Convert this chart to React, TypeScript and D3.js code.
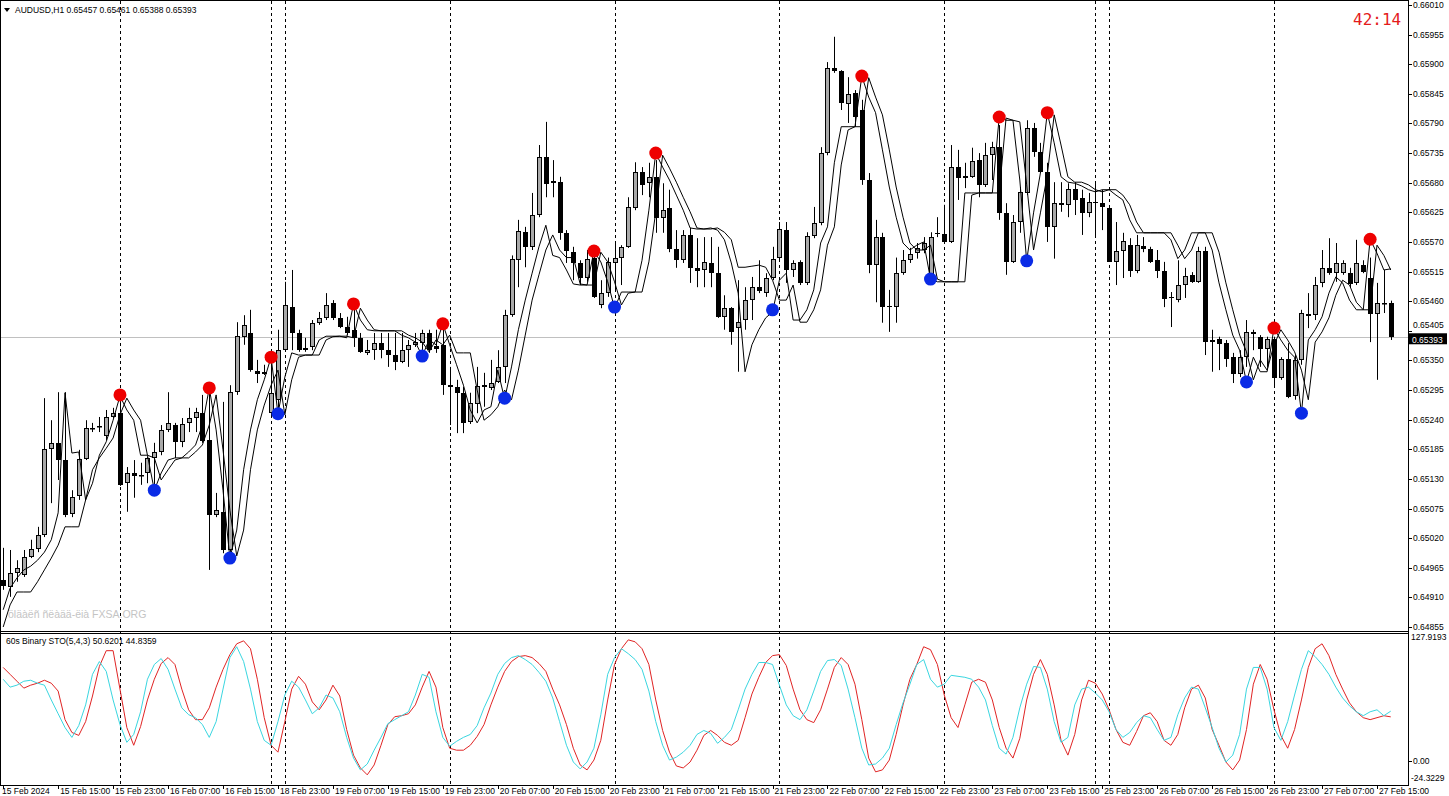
import React from "react";
import * as d3 from "d3";

// ---- price data (in points, 1 point = 0.00001) ----
const OPEN = [64942,64929,64955,64952,64985,65000,65026,65186,65197,65165,65065,65098,65167,65223,65226,65210,65245,65252,65122,65141,65135,65141,65169,65180,65221,65230,65199,65234,65243,65252,65202,65063,65069,64998,65291,65394,65401,65330,65325,65252,65277,65369,65449,65401,65369,65375,65420,65429,65457,65429,65412,65407,65392,65364,65369,65382,65369,65360,65347,65369,65379,65382,65401,65377,65379,65304,65301,65290,65236,65269,65301,65299,65310,65338,65434,65537,65588,65561,65620,65728,65679,65681,65587,65551,65531,65503,65541,65453,65475,65531,65541,65561,65633,65700,65679,65691,65615,65633,65557,65536,65583,65522,65518,65531,65512,65431,65447,65410,65425,65462,65486,65475,65503,65541,65592,65518,65533,65494,65581,65605,65735,65893,65887,65826,65847,65815,65685,65527,65579,65451,65449,65512,65536,65549,65555,65509,65587,65585,65570,65709,65689,65691,65722,65676,65731,65746,65624,65533,65607,65661,65782,65737,65700,65598,65639,65639,65668,65652,65624,65644,65642,65633,65533,65553,65564,65516,65562,65557,65536,65516,65468,65462,65490,65509,65496,65553,65388,65390,65382,65356,65325,65356,65403,65394,65371,65390,65317,65353,65284,65351,65436,65434,65494,65522,65512,65512,65512,65494,65527,65503,65436,65455,65457];
const HIGH = [65002,64998,64979,64998,65017,65041,65280,65239,65291,65291,65109,65184,65239,65234,65245,65258,65262,65284,65152,65165,65160,65171,65197,65230,65291,65234,65243,65262,65262,65286,65299,65104,65273,65304,65421,65434,65444,65351,65342,65354,65407,65496,65518,65407,65392,65425,65440,65475,65462,65438,65431,65444,65401,65388,65401,65401,65401,65401,65401,65388,65401,65407,65407,65407,65412,65338,65314,65301,65290,65338,65327,65351,65369,65444,65545,65611,65598,65661,65750,65793,65722,65691,65592,65561,65536,65555,65553,65499,65541,65570,65564,65653,65718,65709,65717,65722,65679,65667,65592,65592,65596,65577,65579,65579,65561,65471,65449,65499,65486,65505,65536,65512,65561,65607,65607,65536,65536,65588,65635,65746,65904,65951,65889,65876,65852,65834,65698,65611,65587,65481,65541,65555,65559,65568,65579,65588,65616,65639,65750,65741,65717,65745,65735,65754,65756,65787,65642,65620,65672,65796,65791,65754,65717,65681,65681,65679,65681,65667,65661,65679,65667,65637,65607,65587,65577,65583,65579,65561,65555,65533,65477,65536,65522,65514,65561,65561,65407,65394,65388,65364,65369,65425,65407,65397,65394,65394,65356,65382,65360,65444,65475,65505,65555,65577,65568,65536,65522,65574,65536,65541,65494,65518,65461];
const LOW = [64924,64911,64939,64948,64983,64994,65022,65085,65128,65059,65059,65091,65165,65217,65217,65202,65243,65117,65069,65095,65119,65122,65109,65174,65217,65169,65189,65217,65217,65197,64961,65059,64992,64983,65286,65379,65329,65308,65323,65245,65251,65366,65369,65366,65366,65369,65416,65425,65425,65410,65397,65375,65364,65360,65351,65354,65338,65332,65345,65338,65375,65366,65364,65364,65286,65230,65215,65215,65232,65252,65264,65295,65308,65308,65431,65486,65523,65555,65616,65653,65653,65574,65531,65499,65490,65496,65466,65447,65468,65481,65490,65559,65629,65657,65653,65587,65587,65551,65522,65531,65494,65486,65486,65486,65429,65407,65379,65329,65407,65425,65475,65468,65499,65536,65494,65505,65490,65490,65577,65601,65731,65884,65815,65791,65784,65676,65512,65458,65420,65403,65420,65509,65531,65539,65549,65505,65579,65568,65568,65648,65670,65689,65653,65672,65685,65611,65509,65531,65587,65657,65728,65698,65570,65539,65626,65616,65620,65583,65616,65579,65592,65533,65490,65503,65505,65512,65551,65531,65503,65449,65412,65458,65466,65494,65494,65360,65329,65332,65338,65308,65319,65338,65369,65338,65338,65304,65314,65280,65277,65342,65410,65425,65486,65509,65496,65509,65486,65490,65512,65384,65314,65438,65388];
const CLOSE = [64931,64955,64965,64985,65000,65026,65186,65197,65165,65063,65096,65167,65225,65225,65228,65245,65252,65119,65141,65135,65137,65169,65180,65221,65234,65199,65232,65243,65254,65200,65063,65072,64998,65291,65395,65416,65332,65325,65329,65290,65369,65453,65401,65369,65373,65420,65429,65453,65429,65412,65401,65392,65366,65369,65382,65369,65360,65347,65369,65379,65384,65401,65369,65371,65304,65301,65290,65234,65271,65303,65304,65308,65338,65434,65539,65590,65561,65620,65728,65678,65683,65587,65553,65531,65503,65539,65468,65475,65533,65541,65561,65635,65700,65676,65691,65615,65629,65557,65537,65583,65522,65516,65533,65512,65431,65447,65403,65421,65462,65486,65479,65503,65539,65594,65518,65531,65494,65581,65605,65735,65893,65887,65828,65845,65802,65685,65527,65579,65449,65449,65512,65537,65548,65559,65568,65579,65585,65570,65709,65689,65692,65720,65676,65731,65746,65624,65533,65607,65663,65782,65737,65700,65598,65642,65642,65668,65648,65624,65644,65642,65635,65533,65553,65572,65516,65564,65557,65533,65516,65464,65466,65490,65507,65496,65553,65384,65384,65380,65353,65325,65356,65403,65399,65371,65390,65317,65353,65282,65351,65438,65432,65490,65522,65512,65531,65531,65492,65531,65514,65436,65457,65457,65393];

// ---- channel indicator lines (points) ----
const LINE_FAST = [64887,64927,64946,64961,64968,64979,64994,65017,65067,65290,65178,65180,65091,65122,65174,65199,65239,65284,65258,65239,65174,65174,65109,65141,65165,65169,65169,65180,65193,65230,65299,65221,65109,64983,65035,65147,65221,65277,65314,65356,65251,65319,65364,65360,65360,65360,65388,65395,65395,65395,65392,65455,65425,65407,65405,65405,65405,65405,65397,65392,65384,65358,65388,65379,65418,65379,65342,65304,65258,65234,65258,65264,65332,65278,65338,65407,65462,65512,65561,65601,65545,65541,65518,65492,65490,65490,65553,65533,65496,65447,65477,65477,65477,65536,65629,65735,65709,65685,65657,65629,65596,65594,65594,65596,65592,65574,65531,65475,65329,65379,65407,65429,65440,65499,65512,65425,65425,65444,65481,65568,65598,65717,65784,65784,65784,65878,65839,65810,65741,65672,65616,65568,65555,65564,65570,65501,65496,65496,65496,65496,65661,65661,65661,65661,65661,65802,65796,65796,65685,65535,65624,65698,65810,65754,65691,65681,65679,65674,65667,65663,65667,65667,65657,65648,65611,65587,65587,65587,65587,65587,65574,65539,65555,65587,65587,65587,65555,65494,65444,65397,65369,65310,65356,65329,65329,65410,65388,65369,65356,65252,65388,65407,65431,65475,65505,65494,65462,65444,65444,65575,65549,65518,65520];
const LINE_SLOW = [64855,64896,64920,64920,64920,64939,64961,64983,65007,65041,65041,65041,65091,65147,65169,65187,65206,65249,65280,65258,65239,65174,65169,65128,65147,65165,65169,65169,65180,65193,65230,65286,65184,65072,64987,65035,65147,65221,65267,65304,65332,65249,65314,65356,65360,65360,65360,65388,65394,65395,65395,65392,65447,65425,65407,65405,65405,65405,65405,65397,65392,65384,65366,65388,65379,65397,65364,65364,65364,65295,65239,65249,65264,65295,65277,65332,65397,65462,65509,65555,65583,65555,65541,65541,65492,65490,65490,65551,65533,65496,65453,65475,65477,65477,65533,65626,65731,65707,65681,65653,65626,65596,65594,65594,65596,65588,65574,65523,65523,65525,65527,65523,65499,65462,65462,65490,65421,65421,65444,65481,65564,65598,65713,65778,65784,65784,65875,65839,65806,65741,65672,65616,65568,65555,65555,65564,65501,65496,65496,65496,65496,65657,65661,65661,65661,65661,65800,65796,65793,65676,65555,65624,65694,65806,65750,65691,65681,65681,65676,65667,65663,65667,65667,65657,65639,65607,65587,65587,65587,65587,65587,65564,65539,65555,65587,65587,65587,65551,65494,65444,65397,65366,65314,65351,65332,65379,65407,65388,65366,65332,65277,65384,65403,65429,65471,65499,65490,65458,65444,65444,65564,65545,65518];

// ---- signal dots ----
const RED_DOT_INDEX = [17,30,39,51,64,86,95,125,145,152,185,199];
const RED_DOT_PRICE = [65286,65299,65356,65455,65418,65553,65735,65878,65802,65810,65410,65575];
const BLUE_DOT_INDEX = [22,33,40,61,73,89,112,135,149,181,189];
const BLUE_DOT_PRICE = [65109,64983,65251,65358,65280,65449,65444,65501,65535,65310,65252];

// ---- stochastic ----
const STO_MAIN = [83,75,77,81,82,79,77,62,48,34,24,36,57,88,101,91,62,37,19,27,50,83,98,104,93,73,54,47,44,37,24,40,73,105,116,101,73,40,21,16,40,67,81,75,62,48,54,67,64,50,24,3,-9,-3,11,24,38,42,46,50,67,88,85,50,24,15,20,24,27,36,54,69,88,99,105,107,103,98,90,81,64,40,16,-1,-8,-1,13,47,88,105,114,109,103,93,71,40,16,1,4,9,16,27,31,28,18,24,32,52,73,88,100,100,98,77,57,46,42,52,71,91,102,103,97,73,44,13,-4,-3,3,13,37,59,78,98,103,83,75,78,87,86,85,83,75,62,36,13,7,24,54,78,96,95,73,40,19,24,57,73,75,69,62,50,32,24,29,39,46,44,32,21,24,47,64,75,73,54,34,13,-1,6,27,73,95,95,73,34,21,40,67,93,112,106,98,88,75,64,56,50,46,50,52,46,50.62];
const STO_SIGNAL = [95,88,81,74,77,79,82,79,71,42,29,26,40,66,96,112,112,73,34,16,35,62,83,99,105,98,73,52,42,42,54,75,93,108,119,122,114,83,44,16,9,40,73,86,78,60,52,62,77,66,32,6,-7,-14,-4,16,37,45,46,48,57,75,91,75,34,13,11,11,16,25,37,57,75,91,101,106,107,105,99,91,73,57,37,13,-4,-9,1,21,62,98,114,123,121,114,98,62,31,9,-5,-7,-1,11,26,31,26,19,16,21,44,68,85,100,107,108,97,73,52,42,39,52,73,95,105,98,78,42,3,-11,-9,1,27,57,83,98,116,113,98,67,44,34,57,80,83,80,62,34,13,3,23,62,88,103,88,57,21,6,27,62,82,79,68,52,32,19,16,30,46,49,40,21,16,27,54,73,77,64,32,16,-1,-9,1,32,78,98,83,52,26,13,32,62,95,114,119,107,88,73,59,50,44,42,44,46,44.84];

// ---- axes ----
const PRICE_TICKS = [0.66010,0.65955,0.65900,0.65845,0.65790,0.65735,0.65680,0.65625,0.65570,0.65515,0.65460,0.65405,0.65350,0.65295,0.65240,0.65185,0.65130,0.65075,0.65020,0.64965,0.64910,0.64855];
const PRICE_MIN = 0.64855;
const PRICE_MAX = 0.66010;
const STO_MIN = -24.3229;
const STO_MAX = 127.9193;
const LAST_PRICE = 0.65393;
const TIME_LABELS = ["15 Feb 2024","15 Feb 15:00","15 Feb 23:00","16 Feb 07:00","16 Feb 15:00","18 Feb 23:00","19 Feb 07:00","19 Feb 15:00","19 Feb 23:00","20 Feb 07:00","20 Feb 15:00","20 Feb 23:00","21 Feb 07:00","21 Feb 15:00","21 Feb 23:00","22 Feb 07:00","22 Feb 15:00","22 Feb 23:00","23 Feb 07:00","23 Feb 15:00","25 Feb 23:00","26 Feb 07:00","26 Feb 15:00","26 Feb 23:00","27 Feb 07:00","27 Feb 15:00"];
const TIME_LABEL_INDEX = [0,8,16,24,32,40,48,56,64,72,80,88,96,104,112,120,128,136,144,152,160,168,176,184,192,200];
const SEPARATOR_INDEX = [17,39,41,65,89,113,137,159,161,185];

const POINT = 0.00001;
const W = 1449, H = 796;
const AXIS_X = 1408;
const MAIN_TOP = 1, MAIN_BOTTOM = 631;
const SUB_TOP = 634, SUB_BOTTOM = 785;
const FONT = "'Liberation Sans', Arial, sans-serif";

export default function App() {
  const n = CLOSE.length;
  const xs = d3.scaleLinear().domain([0, n - 1]).range([3.2, 3.2 + 6.869 * (n - 1)]);
  const ys = d3.scaleLinear().domain([PRICE_MIN, PRICE_MAX]).range([627, 5]);
  const ss = d3.scaleLinear().domain([STO_MIN, STO_MAX]).range([785, 635]);

  const priceLine = d3.line<number>().x((_, i) => xs(i)).y((v) => ys(v * POINT));
  const stoLine = d3.line<number>().x((_, i) => xs(i)).y((v) => ss(v));

  const lastY = ys(LAST_PRICE);

  const candles = CLOSE.map((c, i) => {
    const o = OPEN[i];
    const hi = Math.max(HIGH[i], o, c);
    const lo = Math.min(LOW[i], o, c);
    const cx = Math.round(xs(i));
    const bull = c >= o;
    const yTop = Math.round(ys(Math.max(o, c) * POINT));
    const yBot = Math.round(ys(Math.min(o, c) * POINT));
    const bh = Math.max(1, yBot - yTop);
    return (
      <g key={i}>
        <line x1={cx + 0.5} x2={cx + 0.5} y1={ys(hi * POINT)} y2={ys(lo * POINT)} stroke="#000" strokeWidth={1} />
        {bull ? (
          <rect x={cx - 1.5} y={yTop + 0.5} width={4} height={Math.max(0.5, bh - 1)} fill="#a9a9a9" stroke="#000" strokeWidth={1} />
        ) : (
          <rect x={cx - 2} y={yTop} width={5} height={bh} fill="#000" />
        )}
      </g>
    );
  });

  return (
    <div style={{ position: "absolute", left: 0, top: 0 }}>
      <svg width={W} height={H} style={{ display: "block", background: "#fff" }}>
        <defs>
          <clipPath id="mainClip"><rect x={1} y={MAIN_TOP} width={AXIS_X - 1} height={MAIN_BOTTOM - MAIN_TOP} /></clipPath>
          <clipPath id="subClip"><rect x={1} y={SUB_TOP} width={AXIS_X - 1} height={SUB_BOTTOM - SUB_TOP} /></clipPath>
        </defs>
        <rect x={0} y={0} width={W} height={H} fill="#fff" />

        {/* period separators */}
        {SEPARATOR_INDEX.map((i) => (
          <line key={"sep" + i} x1={Math.round(xs(i)) + 0.5} x2={Math.round(xs(i)) + 0.5} y1={1} y2={SUB_BOTTOM} stroke="#000" strokeWidth={1} strokeDasharray="3,3" />
        ))}

        {/* main pane */}
        <g clipPath="url(#mainClip)">
          <line x1={1} x2={AXIS_X} y1={Math.round(lastY) + 0.5} y2={Math.round(lastY) + 0.5} stroke="#c0c0c0" strokeWidth={1} />
          <text x={8} y={618} fontFamily={FONT} fontSize={10.5} fill="#c4c4c4">öläàëñ ñëàää-ëià FXSA.ORG</text>
          {candles}
          <path d={priceLine(LINE_SLOW) || ""} fill="none" stroke="#000" strokeWidth={1} />
          <path d={priceLine(LINE_FAST) || ""} fill="none" stroke="#000" strokeWidth={1} />
          {RED_DOT_INDEX.map((i, k) => (
            <circle key={"r" + k} cx={xs(i)} cy={ys(RED_DOT_PRICE[k] * POINT)} r={6.5} fill="#ee0000" />
          ))}
          {BLUE_DOT_INDEX.map((i, k) => (
            <circle key={"b" + k} cx={xs(i)} cy={ys(BLUE_DOT_PRICE[k] * POINT)} r={6.5} fill="#0a2be6" />
          ))}
        </g>

        {/* sub pane */}
        <g clipPath="url(#subClip)">
          <path d={stoLine(STO_SIGNAL) || ""} fill="none" stroke="#e02424" strokeWidth={1} />
          <path d={stoLine(STO_MAIN) || ""} fill="none" stroke="#3ad6e0" strokeWidth={1} />
        </g>

        {/* frames */}
        <line x1={0.5} x2={0.5} y1={0} y2={SUB_BOTTOM} stroke="#000" />
        <line x1={0} x2={AXIS_X} y1={0.5} y2={0.5} stroke="#000" />
        <line x1={AXIS_X + 0.5} x2={AXIS_X + 0.5} y1={0} y2={SUB_BOTTOM + 0.5} stroke="#000" />
        <line x1={0} x2={AXIS_X} y1={MAIN_BOTTOM + 0.5} y2={MAIN_BOTTOM + 0.5} stroke="#000" />
        <line x1={0} x2={AXIS_X} y1={SUB_TOP - 0.5} y2={SUB_TOP - 0.5} stroke="#000" />
        <line x1={0} x2={AXIS_X + 1} y1={SUB_BOTTOM + 0.5} y2={SUB_BOTTOM + 0.5} stroke="#000" />

        {/* price axis */}
        {PRICE_TICKS.map((p) => {
          const near = Math.abs(ys(p) - lastY) < 12;
          return (
            <g key={"pt" + p}>
              <line x1={AXIS_X} x2={AXIS_X + 4} y1={Math.round(ys(p)) + 0.5} y2={Math.round(ys(p)) + 0.5} stroke="#000" />
              <text x={AXIS_X + 5} y={near ? ys(p) - 2.5 : ys(p) + 3} fontFamily={FONT} fontSize={8.5} fill="#000">{p.toFixed(5)}</text>
            </g>
          );
        })}
        <rect x={AXIS_X + 1} y={lastY - 4} width={38} height={11} fill="#000" />
        <text x={AXIS_X + 4} y={lastY + 5.5} fontFamily={FONT} fontSize={8.5} fill="#fff">{LAST_PRICE.toFixed(5)}</text>

        {/* sub axis */}
        <text x={AXIS_X + 3} y={ss(STO_MAX) + 5} fontFamily={FONT} fontSize={8.5} fill="#000">{STO_MAX.toFixed(4)}</text>
        <line x1={AXIS_X} x2={AXIS_X + 4} y1={Math.round(ss(0)) + 0.5} y2={Math.round(ss(0)) + 0.5} stroke="#000" />
        <text x={AXIS_X + 5} y={ss(0) + 3} fontFamily={FONT} fontSize={8.5} fill="#000">0.00</text>
        <text x={AXIS_X + 3} y={ss(STO_MIN) - 4} fontFamily={FONT} fontSize={8.5} fill="#000">{STO_MIN.toFixed(4)}</text>

        {/* time axis */}
        {TIME_LABEL_INDEX.map((i, k) => (
          <g key={"tl" + k}>
            <line x1={Math.round(xs(i)) + 0.5} x2={Math.round(xs(i)) + 0.5} y1={SUB_BOTTOM} y2={SUB_BOTTOM + 4} stroke="#000" />
            <text x={k === 0 ? 2 : xs(i) + 2} y={794} fontFamily={FONT} fontSize={8.5} fill="#000">{TIME_LABELS[k]}</text>
          </g>
        ))}

        {/* headers */}
        <path d="M4,8 L10,8 L7,12 Z" fill="#000" />
        <text x={15} y={13} fontFamily={FONT} fontSize={8.5} fill="#000">AUDUSD,H1  0.65457 0.65461 0.65388 0.65393</text>
        <text x={6} y={644} fontFamily={FONT} fontSize={8.5} fill="#000">60s Binary STO(5,4,3) 50.6201 44.8359</text>
        <text x={1353} y={25} fontFamily="'DejaVu Sans Mono', monospace" fontSize={16} fill="#e41b1b">42:14</text>
      </svg>
    </div>
  );
}
